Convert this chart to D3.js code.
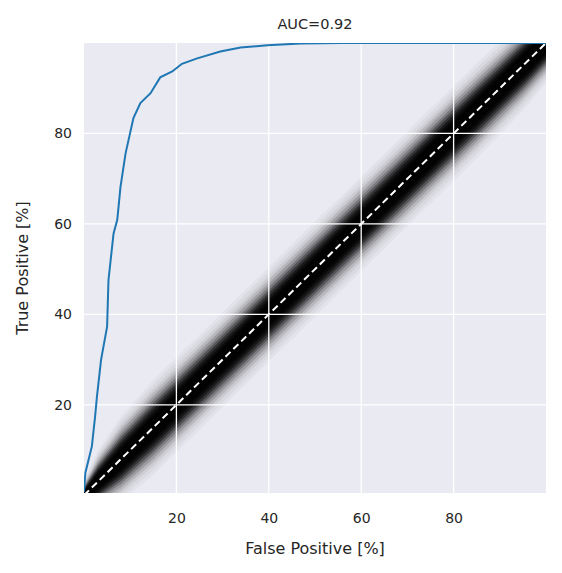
<!DOCTYPE html>
<html>
<head>
<meta charset="utf-8">
<script src="https://cdn.jsdelivr.net/npm/d3@7"></script>
<style>
  body { margin: 0; background: #fff; }
  text { font-family: "DejaVu Sans", sans-serif; fill: #262626; }
</style>
</head>
<body>
<div id="chart"></div>
<script>
// ROC curve (false positive %, true positive %)
const rocFpr = [0, 0.3, 1.7, 2.4, 2.8, 3.7, 5, 5.3, 6.4, 7.2, 7.9, 9, 10.7, 12.2, 14.4, 16.5, 19.1, 21.2, 24.5, 29.5, 33.9, 39.7, 46.9, 55.6, 100];
const rocTpr = [0.8, 5, 10.8, 17.4, 21.8, 30, 37.3, 47.6, 57.9, 60.9, 68.2, 75.6, 83.4, 86.7, 88.9, 92.4, 93.7, 95.4, 96.6, 98.1, 99, 99.5, 99.9, 100, 100];

// null-distribution band around the diagonal: half widths (in %), opacities, and taper along x
const bandHalfWidths = [10.5, 9.5, 8.5, 7.7, 6.9, 6.1, 5.4, 4.7, 4, 3.3, 2.6];
const bandOpacity = [0.03, 0.04, 0.06, 0.1, 0.15, 0.2, 0.3, 0.4, 0.5, 0.6, 0.8];
const taperX = [0, 3, 8, 15, 85, 95, 100];
const taperK = [0.3, 0.65, 0.9, 1, 1, 0.95, 0.85];

const xTicks = [20, 40, 60, 80];
const yTicks = [20, 40, 60, 80];
const title = "AUC=0.92";

const margin = {top: 43, right: 16, bottom: 80, left: 84};
const W = 562, H = 573;
const width = W - margin.left - margin.right;
const height = H - margin.top - margin.bottom;

const svg = d3.select("#chart").append("svg").attr("width", W).attr("height", H);
const g = svg.append("g").attr("transform", "translate(" + margin.left + "," + margin.top + ")");

const x = d3.scaleLinear().domain([0, 100]).range([0, width]);
const y = d3.scaleLinear().domain([0.5, 100]).range([height, 0]);

g.append("rect").attr("width", width).attr("height", height).attr("fill", "#eaeaf2");
g.append("clipPath").attr("id", "clip").append("rect").attr("width", width).attr("height", height);

const taper = d3.scaleLinear().domain(taperX).range(taperK);
const bandG = g.append("g").attr("clip-path", "url(#clip)");
const steps = d3.range(0, 101, 1);
bandHalfWidths.forEach((w, i) => {
  const area = d3.area()
    .x(d => x(d))
    .y0(d => y(d - w * taper(d)))
    .y1(d => y(d + w * taper(d)));
  bandG.append("path").datum(steps).attr("d", area).attr("fill", "#000").attr("fill-opacity", bandOpacity[i]);
});

// grid on top of band
g.selectAll(".gx").data(xTicks).enter().append("line")
  .attr("x1", d => x(d)).attr("x2", d => x(d)).attr("y1", 0).attr("y2", height)
  .attr("stroke", "#fff").attr("stroke-width", 1.3);
g.selectAll(".gy").data(yTicks).enter().append("line")
  .attr("y1", d => y(d)).attr("y2", d => y(d)).attr("x1", 0).attr("x2", width)
  .attr("stroke", "#fff").attr("stroke-width", 1.3);

g.append("line").attr("clip-path", "url(#clip)")
  .attr("x1", x(0)).attr("y1", y(0)).attr("x2", x(100)).attr("y2", y(100))
  .attr("stroke", "#fff").attr("stroke-width", 2).attr("stroke-dasharray", "7,4");

const roc = rocFpr.map((d, i) => [d, rocTpr[i]]);
g.append("path").datum(roc).attr("clip-path", "url(#clip)")
  .attr("d", d3.line().x(d => x(d[0])).y(d => y(d[1])))
  .attr("fill", "none").attr("stroke", "#1f77b4").attr("stroke-width", 2);

const xAxis = g.append("g").attr("transform", "translate(0," + height + ")")
  .call(d3.axisBottom(x).tickValues(xTicks).tickSize(0).tickPadding(20));
const yAxis = g.append("g").call(d3.axisLeft(y).tickValues(yTicks).tickSize(0).tickPadding(12));
[xAxis, yAxis].forEach(a => {
  a.select(".domain").remove();
  a.selectAll("text").attr("font-size", 14).style("font-family", "DejaVu Sans, sans-serif").attr("fill", "#262626");
});

svg.append("text").attr("x", margin.left + width / 2).attr("y", 29).attr("text-anchor", "middle")
  .attr("font-size", 14.5).text(title);
svg.append("text").attr("x", margin.left + width / 2).attr("y", 554).attr("text-anchor", "middle")
  .attr("font-size", 16).text("False Positive [%]");
svg.append("text").attr("transform", "translate(28," + (margin.top + height / 2) + ") rotate(-90)")
  .attr("text-anchor", "middle").attr("font-size", 16).text("True Positive [%]");
</script>
</body>
</html>
